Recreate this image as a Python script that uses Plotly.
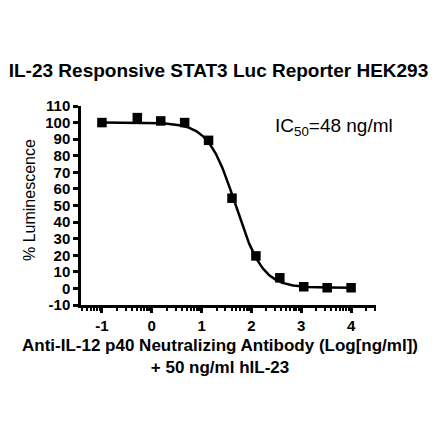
import numpy as np
import plotly.graph_objects as go

# Data
log_conc = [-1.0, -0.29, 0.18, 0.66, 1.14, 1.61, 2.09, 2.57, 3.05, 3.52, 4.0]
luminescence = [100.0, 103.0, 101.0, 100.0, 89.3, 54.4, 19.6, 6.4, 1.0, 0.4, 0.4]

# 4PL fit parameters (IC50 = 48 ng/ml)
fit_top = 100.0
fit_bottom = 0.4
fit_log_ic50 = np.log10(48)
fit_hill = 1.6

x_ticks = [-1, 0, 1, 2, 3, 4]
y_ticks = list(range(-10, 111, 10))

xf = np.linspace(-1, 4, 400)
yf = fit_bottom + (fit_top - fit_bottom) / (1 + 10 ** ((xf - fit_log_ic50) * fit_hill))

minor_vals = [d + np.log10(k) for d in range(-2, 5) for k in range(2, 10)]
minor_vals = [v for v in minor_vals if -1.45 <= v <= 4.5]

FONT = "Liberation Sans, Arial, sans-serif"
OFF = 8  # default page body margin
W = H = 440 - OFF
L, T, R, B = 81 - OFF, 106 - OFF, 440 - 376, 440 - 305
PW, PH = W - L - R, H - T - B

fig = go.Figure()
fig.add_trace(go.Scatter(x=xf, y=yf, mode="lines",
                         line=dict(color="black", width=2.5), hoverinfo="skip"))
fig.add_trace(go.Scatter(x=log_conc, y=luminescence, mode="markers",
                         marker=dict(symbol="square", size=9.5, color="black")))

fig.update_layout(
    width=W, height=H,
    margin=dict(l=L, r=R, t=T, b=B, autoexpand=False),
    paper_bgcolor="white", plot_bgcolor="white",
    showlegend=False,
    title=dict(text="<b>IL-23 Responsive STAT3 Luc Reporter HEK293</b>",
               x=(218.5 - OFF) / W, xanchor="center", y=1 - (70 - OFF) / H, yanchor="middle",
               font=dict(size=19, family=FONT, color="black")),
    xaxis=dict(range=[-1.42, 4.5], tickmode="array", tickvals=x_ticks,
               ticktext=[f"<b>{v}</b>" for v in x_ticks],
               showline=True, linecolor="black", linewidth=2.5,
               ticks="outside", ticklen=5, tickwidth=2.5, tickcolor="black",
               showgrid=False, zeroline=False,
               tickfont=dict(size=15, family=FONT, color="black"),
               minor=dict(tickmode="array", tickvals=minor_vals, ticks="outside",
                          ticklen=3, tickwidth=1.5, tickcolor="black", showgrid=False)),
    yaxis=dict(range=[-10, 110], tickmode="array", tickvals=y_ticks,
               ticktext=[f"<b>{v}</b>" for v in y_ticks],
               showline=True, linecolor="black", linewidth=2.5,
               ticks="outside", ticklen=5, tickwidth=2.5, tickcolor="black",
               showgrid=False, zeroline=False,
               tickfont=dict(size=15, family=FONT, color="black")),
)

# y-axis title
fig.add_annotation(text="% Luminescence", xref="paper", yref="paper",
                   x=(29 - 81) / PW, y=1 - (200 - 106) / PH, textangle=-90,
                   xanchor="center", yanchor="middle", showarrow=False,
                   font=dict(size=16, family=FONT, color="black"))
# x-axis title
fig.add_annotation(text="<b>Anti-IL-12 p40 Neutralizing Antibody (Log[ng/ml])<br>+ 50 ng/ml hIL-23</b>",
                   xref="paper", yref="paper",
                   x=(220 - 81) / PW, y=-(356 - 305) / PH,
                   xanchor="center", yanchor="middle", showarrow=False,
                   font=dict(size=17, family=FONT, color="black"))
# IC50 label
fig.add_annotation(text="IC<sub>50</sub>=48 ng/ml", xref="paper", yref="paper",
                   x=(333.5 - 81) / PW, y=1 - (127 - 106) / PH, xanchor="center",
                   yanchor="middle", showarrow=False,
                   font=dict(size=19, family=FONT, color="black"))

fig.write_html("out.html")
